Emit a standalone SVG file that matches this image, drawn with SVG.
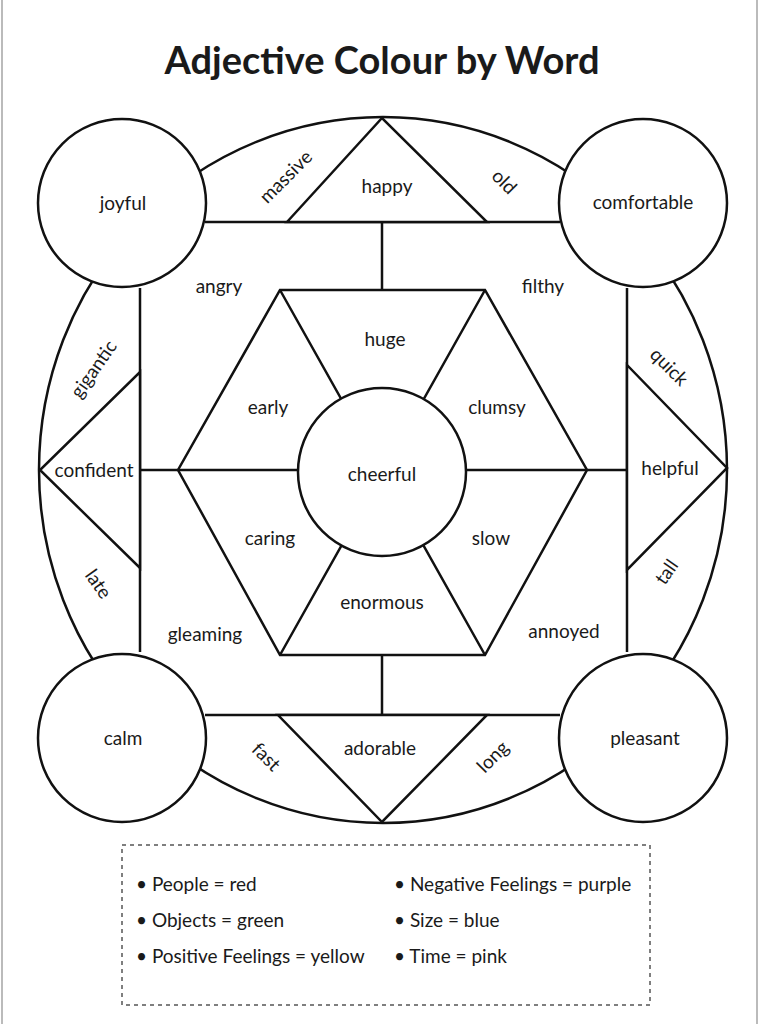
<svg xmlns="http://www.w3.org/2000/svg" width="768" height="1024" viewBox="0 0 768 1024">
<style>
.s{fill:none;stroke:#111;stroke-width:2.5}
.w{fill:#fff;stroke:#111;stroke-width:2.5}
text{font-family:Lato,"Open Sans",sans-serif;font-size:19px;fill:#1a1a1a;text-anchor:middle;dominant-baseline:middle}
.t{font-size:38px;font-weight:bold}
.l{text-anchor:start}
</style>
<rect x="0" y="0" width="768" height="1024" fill="#fff"/>
<rect x="2" y="-2" width="755" height="1030" fill="none" stroke="#bbb" stroke-width="2"/>
<text class="t" x="382" y="64">Adjective Colour by Word</text>
<g id="connectors">
<ellipse class="s" cx="383" cy="470" rx="344" ry="353"/>
<path class="s" d="M205 222H560 M205 715H560 M140 288V652 M627 288V652 M382 222V290 M382 650V715 M140 470H178 M587 470H627"/>
<path class="w" d="M287 222L382 118L487 222Z M278 715L487 715L382 822Z M140 372L140 568L40 470Z M627 365L627 570L727 468Z"/>
<path class="w" d="M280 290H485L587 470L485 655H280L178 470Z"/>
<path class="s" d="M280 290L485 655 M485 290L280 655 M178 470H587"/>
</g>
<g id="center"><circle class="w" cx="382" cy="472" r="84"/><text x="382" y="476">cheerful</text></g>
<g id="joyful"><circle class="w" cx="122" cy="203" r="84"/><text x="123" y="205">joyful</text></g>
<g id="comfortable"><circle class="w" cx="643" cy="203" r="84"/><text x="643" y="204">comfortable</text></g>
<g id="calm"><circle class="w" cx="122" cy="738" r="84"/><text x="123" y="740">calm</text></g>
<g id="pleasant"><circle class="w" cx="643" cy="738" r="84"/><text x="645" y="740">pleasant</text></g>
<g id="labels">
<text x="387" y="188">happy</text>
<text x="219" y="288">angry</text>
<text x="543" y="288">filthy</text>
<text x="385" y="341">huge</text>
<text x="268" y="409">early</text>
<text x="497" y="409">clumsy</text>
<text x="94" y="472">confident</text>
<text x="670" y="470">helpful</text>
<text x="270" y="540">caring</text>
<text x="491" y="540">slow</text>
<text x="382" y="604">enormous</text>
<text x="205" y="636">gleaming</text>
<text x="564" y="633">annoyed</text>
<text x="380" y="750">adorable</text>
<text transform="translate(287,178) rotate(-45)">massive</text>
<text transform="translate(503,183) rotate(45)">old</text>
<text transform="translate(95,370) rotate(-55)">gigantic</text>
<text transform="translate(97,585) rotate(55)">late</text>
<text transform="translate(668,368) rotate(45)">quick</text>
<text transform="translate(668,573) rotate(-55)">tall</text>
<text transform="translate(265,758) rotate(45)">fast</text>
<text transform="translate(494,758) rotate(-45)">long</text>
</g>
<g id="legend">
<rect x="122" y="845" width="528" height="160" fill="none" stroke="#555" stroke-width="1.5" stroke-dasharray="4 4"/>
<text class="l" x="136" y="886">• People = red</text>
<text class="l" x="136" y="922">• Objects = green</text>
<text class="l" x="136" y="958">• Positive Feelings = yellow</text>
<text class="l" x="394" y="886">• Negative Feelings = purple</text>
<text class="l" x="394" y="922">• Size = blue</text>
<text class="l" x="394" y="958">• Time = pink</text>
</g>
</svg>
